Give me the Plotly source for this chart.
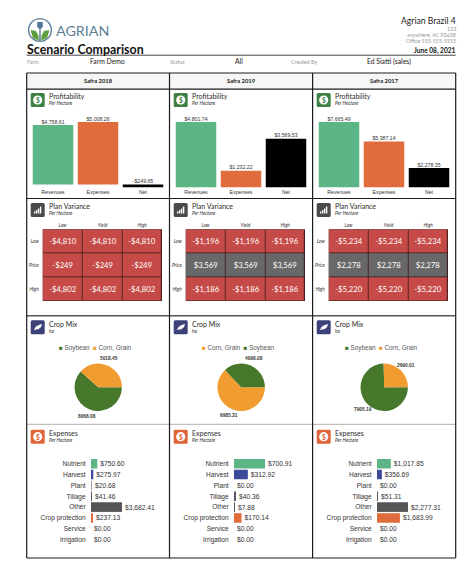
import math
import plotly.graph_objects as go

W, H = 474, 565

# Report data
scenarios = ["Safra 2018", "Safra 2019", "Safra 2017"]

profit_labels = ["Revenues", "Expenses", "Net"]
profit_2018 = [4758.61, 5008.26, -249.65]
profit_2019 = [4801.74, 1232.22, 3569.53]
profit_2017 = [7665.49, 5387.14, 2278.35]

variance_cols = ["Low", "Yield", "High"]
variance_rows = ["Low", "Price", "High"]
variance_2018 = [[-4810, -4810, -4810], [-249, -249, -249], [-4802, -4802, -4802]]
variance_2019 = [[-1196, -1196, -1196], [3569, 3569, 3569], [-1186, -1186, -1186]]
variance_2017 = [[-5234, -5234, -5234], [2278, 2278, 2278], [-5220, -5220, -5220]]

crops_2018 = ["Soybean", "Corn, Grain"]
crops_2019 = ["Corn, Grain", "Soybean"]
crops_2017 = ["Soybean", "Corn, Grain"]
area_2018 = [8068.08, 5018.45]
area_2019 = [6985.31, 4098.08]
area_2017 = [7905.19, 2690.01]

expense_labels = ["Nutrient", "Harvest", "Plant", "Tillage", "Other",
                  "Crop protection", "Service", "Irrigation"]
expense_2018 = [750.60, 275.97, 20.68, 41.46, 3682.41, 237.13, 0.00, 0.00]
expense_2019 = [700.91, 312.92, 0.00, 40.36, 7.88, 170.14, 0.00, 0.00]
expense_2017 = [1017.85, 356.69, 0.00, 51.31, 2277.31, 1683.99, 0.00, 0.00]

# Palette
GREEN, ORANGE, NAVY, DARK = "#5cb585", "#e06c3d", "#3d4a9a", "#555558"
CROP_COLORS = {"Soybean": "#47772b", "Corn, Grain": "#f09c30"}
EXPENSE_COLORS = [GREEN, NAVY, "#a89aa0", "#5a5560", DARK, ORANGE, "#f0e4de", "#dfe6f0"]
RED_CELL, GREY_CELL, CELL_LINE = "#c64b48", "#686868", "#3c1c1c"
SANS, BODY = "Liberation Sans", "Lato"

COL_STEP = 143
LEFT, RIGHT = 26.7, 455.7
DIVIDERS = [169.5, 312.6]


def px(x):
    return x / W


def py(y):
    return 1 - y / H


shapes, notes = [], []
layout_axes = {}
fig = go.Figure()


def text(x, y, s, size, color="#222", anchor="left", family=BODY, weight=None, style=None):
    font = dict(size=size, color=color, family=family)
    if weight:
        font["weight"] = weight
    if style:
        font["style"] = style
    notes.append(dict(x=px(x), y=py(y), xref="paper", yref="paper", text=s, showarrow=False,
                      xanchor=anchor, yanchor="middle", font=font, borderpad=0, borderwidth=0))


def rect(x0, y0, x1, y1, fill=None, line=None, width=0, layer="above"):
    shapes.append(dict(type="rect", xref="paper", yref="paper", x0=px(x0), x1=px(x1),
                       y0=py(y0), y1=py(y1), fillcolor=fill or "rgba(0,0,0,0)",
                       line=dict(color=line or "rgba(0,0,0,0)", width=width), layer=layer))


def hline(y, color, width, x0=LEFT, x1=RIGHT):
    shapes.append(dict(type="line", xref="paper", yref="paper", x0=px(x0), x1=px(x1),
                       y0=py(y), y1=py(y), line=dict(color=color, width=width)))


def vline(x, y0, y1, color="#1c1c1c", width=1.2):
    shapes.append(dict(type="line", xref="paper", yref="paper", x0=px(x), x1=px(x),
                       y0=py(y0), y1=py(y1), line=dict(color=color, width=width)))


def path(points, fill, close=True):
    d = "M " + " L ".join(f"{px(a):.5f},{py(b):.5f}" for a, b in points) + (" Z" if close else "")
    shapes.append(dict(type="path", xref="paper", yref="paper", path=d, fillcolor=fill,
                       line=dict(width=0)))


def circle(cx, cy, r, fill=None, line=None, width=0):
    shapes.append(dict(type="circle", xref="paper", yref="paper", x0=px(cx - r), x1=px(cx + r),
                       y0=py(cy - r), y1=py(cy + r), fillcolor=fill or "rgba(0,0,0,0)",
                       line=dict(color=line or "rgba(0,0,0,0)", width=width)))


def icon_box(x, y, fill):
    r, s = 1.5, 14
    d = (f"M {px(x + r)},{py(y)} L {px(x + s - r)},{py(y)} Q {px(x + s)},{py(y)} {px(x + s)},{py(y + r)} "
         f"L {px(x + s)},{py(y + s - r)} Q {px(x + s)},{py(y + s)} {px(x + s - r)},{py(y + s)} "
         f"L {px(x + r)},{py(y + s)} Q {px(x)},{py(y + s)} {px(x)},{py(y + s - r)} "
         f"L {px(x)},{py(y + r)} Q {px(x)},{py(y)} {px(x + r)},{py(y)} Z")
    shapes.append(dict(type="path", xref="paper", yref="paper", path=d, fillcolor=fill,
                       line=dict(width=0)))


def panel_head(i, y, kind, title, sub):
    x = 30.7 + COL_STEP * i
    if kind == "profit":
        icon_box(x, y, "#3f8144")
        circle(x + 7, y + 7, 4.6, fill="white")
        text(x + 7, y + 7.2, "$", 6.5, "#3f8144", "center", weight="bold")
    elif kind == "expense":
        icon_box(x, y, "#e0643a")
        circle(x + 7, y + 7, 4.6, fill="white")
        text(x + 7, y + 7.2, "$", 6.5, "#e0643a", "center", weight="bold")
    elif kind == "variance":
        icon_box(x, y, "#4a4a4a")
        for k, h in enumerate((2, 3.5, 5, 7)):
            rect(x + 3.2 + k * 2, y + 10.5 - h, x + 4.6 + k * 2, y + 10.5, fill="white")
    else:
        icon_box(x, y, "#3c4278")
        path([(x + 3, y + 10), (x + 5, y + 6.5), (x + 8, y + 4.6), (x + 11.4, y + 3.6),
              (x + 10.2, y + 7), (x + 7.5, y + 9), (x + 5, y + 9.2)], "white")
    text(x + 18.3, y + 3.4, title, 7, "#2b2b2b")
    text(x + 18.3, y + 10.4, sub, 4.8, "#333", style="italic")


# Page header
circle(40, 30, 11.4, line="#5f8299", width=1.4)
path([(30.5, 30), (36, 31), (38.6, 36), (38.8, 40.6), (33, 38)], "#5f9e3f")
path([(49.5, 30), (44, 31), (41.4, 36), (41.2, 40.6), (47, 38)], "#5f9e3f")
path([(39.3, 27), (40.7, 27), (40.7, 41), (39.3, 41)], "#4f7694")
path([(37.2, 22), (42.8, 22), (42.8, 26.5), (41.3, 28.5), (38.7, 28.5), (37.2, 26.5)], "#4f7694")
text(56, 30.7, "AGRIAN", 14.3, "#5d7f95", family="Lato")
text(26.7, 49.7, "Scenario Comparison", 12.4, "#111", weight="bold")
hline(55.2, "#444", 1)

text(455.7, 21, "Agrian Brazil 4", 8.6, "#222", "right")
text(455.7, 29.2, "123", 5.3, "#999", "right")
text(455.7, 35.2, "anywhere, AC 93638", 5.3, "#999", "right")
text(455.7, 41.2, "Office 555-555-5555", 5.3, "#999", "right")
text(455.7, 50.5, "June 08, 2021", 6.6, "#111", "right", weight="bold")

text(27, 61.7, "Farm", 5.4, "#999")
text(107.5, 61, "Farm Demo", 6.8, "#222", "center")
text(170, 61.7, "Status", 5.4, "#999")
text(239, 61, "All", 6.8, "#222", "center")
text(291, 61.7, "Created By", 5.4, "#999")
text(389, 61, "Ed Siatti (sales)", 6.8, "#222", "center")

# Column headers and panel grid
rect(LEFT, 73, RIGHT, 89.2, fill="#f6f6f6", layer="below")
for i, name in enumerate(scenarios):
    text(98 + COL_STEP * i, 81, name, 5.8, "#222", "center", weight="bold")
hline(73, "#1c1c1c", 1.2)
hline(89.2, "#1c1c1c", 1.2)
hline(198.5, "#1c1c1c", 1.2)
hline(315.7, "#55555a", 1.4)
hline(424.3, "#9a9a9a", 0.8)
hline(558, "#1c1c1c", 1.2)
vline(LEFT, 73, 558)
vline(RIGHT, 73, 558)
for d in DIVIDERS:
    vline(d, 73, 558)


def add_axes(n, xdom, ydom, xcfg, ycfg):
    suffix = "" if n == 1 else str(n)
    layout_axes[f"xaxis{suffix}"] = dict(
        domain=[px(xdom[0]), px(xdom[1])], anchor=f"y{suffix}", showgrid=False, zeroline=False,
        showline=False, ticks="", **xcfg)
    layout_axes[f"yaxis{suffix}"] = dict(
        domain=[py(ydom[1]), py(ydom[0])], anchor=f"x{suffix}", showgrid=False, zeroline=False,
        showline=False, ticks="", **ycfg)
    return f"x{suffix}", f"y{suffix}"


# Profitability columns
for i, values in enumerate((profit_2018, profit_2019, profit_2017)):
    panel_head(i, 93, "profit", "Profitability", "Per Hectare")
    xa, ya = add_axes(
        i + 1, (30.5 + COL_STEP * i, 165.5 + COL_STEP * i), (122, 187.5),
        dict(type="category", categoryorder="array", categoryarray=profit_labels,
             tickfont=dict(size=5.2, family=SANS, color="#333"), ticklabelstandoff=0),
        dict(range=[min(0, min(values)), max(values)], showticklabels=False))
    fig.add_trace(go.Bar(x=profit_labels, y=values, xaxis=xa, yaxis=ya, width=0.9,
                         marker=dict(color=[GREEN, ORANGE, "#000000"], line=dict(width=0)),
                         showlegend=False, hoverinfo="x+y"))
    fig.add_trace(go.Scatter(x=profit_labels, y=[max(v, 0) for v in values], xaxis=xa, yaxis=ya,
                             mode="text", text=[f"-${-v:,.2f}" if v < 0 else f"${v:,.2f}" for v in values],
                             textposition="top center", cliponaxis=False,
                             textfont=dict(size=5.2, family=SANS, color="#333"),
                             showlegend=False, hoverinfo="skip"))

# Plan variance grids
for i, z in enumerate((variance_2018, variance_2019, variance_2017)):
    panel_head(i, 203, "variance", "Plan Variance", "Per Hectare")
    xa, ya = add_axes(
        i + 4, (42.7 + COL_STEP * i, 162 + COL_STEP * i), (229.3, 301),
        dict(side="top", tickfont=dict(size=4.8, family=BODY, color="#333", style="italic"),
             categoryorder="array", categoryarray=variance_cols, type="category"),
        dict(autorange="reversed", tickfont=dict(size=4.8, family=BODY, color="#333", style="italic"),
             categoryorder="array", categoryarray=variance_rows, type="category"))
    layout_axes[f"yaxis{ya[1:]}"].update(ticks="outside", ticklen=2, tickcolor="rgba(0,0,0,0)")
    shapes.append(dict(type="rect", xref=f"{xa} domain", yref=f"{ya} domain", x0=0, x1=1, y0=0, y1=1,
                       fillcolor=CELL_LINE, line=dict(width=0), layer="below"))
    fig.add_trace(go.Heatmap(x=variance_cols, y=variance_rows, z=z, xaxis=xa, yaxis=ya,
                             zmin=-10000, zmax=10000, xgap=0.8, ygap=0.8, showscale=False,
                             colorscale=[[0, RED_CELL], [0.5, RED_CELL], [0.5, GREY_CELL], [1, GREY_CELL]],
                             texttemplate="%{z:$,.0f}",
                             textfont=dict(size=7.7, family=BODY, color="white")))

# Crop mix pies, with value labels placed at each slice's mid-angle
PIE_R = 23.7
LABEL_R = 31
for i, (names, values) in enumerate(((crops_2018, area_2018), (crops_2019, area_2019),
                                     (crops_2017, area_2017))):
    panel_head(i, 320.3, "crop", "Crop Mix", "ha")
    cx, cy = 98.2 + COL_STEP * i, 387.3
    fig.add_trace(go.Pie(labels=names, values=values, sort=False, rotation=90, direction="clockwise",
                         domain=dict(x=[px(cx - PIE_R), px(cx + PIE_R)],
                                     y=[py(cy + PIE_R), py(cy - PIE_R)]),
                         marker=dict(colors=[CROP_COLORS[n] for n in names], line=dict(width=0)),
                         textinfo="none", showlegend=False, automargin=False))
    total, swept = sum(values), 0.0
    for v in values:
        mid = (swept + v / 2) / total * 2 * math.pi
        swept += v
        text(cx + LABEL_R * math.cos(mid), cy + LABEL_R * math.sin(mid), f"{v:.2f}", 4.8, "#333",
             "center", family=SANS, weight="bold")
    key = "  ".join(f'<span style="color:{CROP_COLORS[n]}">■</span> {n}' for n in names)
    text(cx - 2.5, 348.3, key, 6.3, "#555", "center", family=SANS)

# Expense breakdown bars
for i, values in enumerate((expense_2018, expense_2019, expense_2017)):
    panel_head(i, 429.7, "expense", "Expenses", "Per Hectare")
    zero = 91 + COL_STEP * i
    xa, ya = add_axes(
        i + 7, (zero, zero + 31), (458.3, 545.1),
        dict(range=[0, max(values)], showticklabels=False),
        dict(type="category", categoryorder="array", categoryarray=expense_labels,
             autorange="reversed", tickfont=dict(size=6.6, family=SANS, color="#333")))
    layout_axes[f"yaxis{ya[1:]}"].update(ticks="outside", ticklen=3, tickcolor="rgba(0,0,0,0)")
    fig.add_trace(go.Bar(x=values, y=expense_labels, orientation="h", xaxis=xa, yaxis=ya, width=0.88,
                         marker=dict(color=EXPENSE_COLORS, line=dict(width=0)),
                         text=[f"${v:,.2f}" for v in values], textposition="outside",
                         cliponaxis=False, textfont=dict(size=6.7, family=SANS, color="#333"),
                         showlegend=False, hoverinfo="x+y"))

fig.update_layout(width=W, height=H, autosize=False, margin=dict(l=0, r=0, t=0, b=0, pad=0),
                  paper_bgcolor="white", plot_bgcolor="white", showlegend=False,
                  shapes=shapes, annotations=notes, **layout_axes)
fig.write_html("out.html", config=dict(displayModeBar=False))
